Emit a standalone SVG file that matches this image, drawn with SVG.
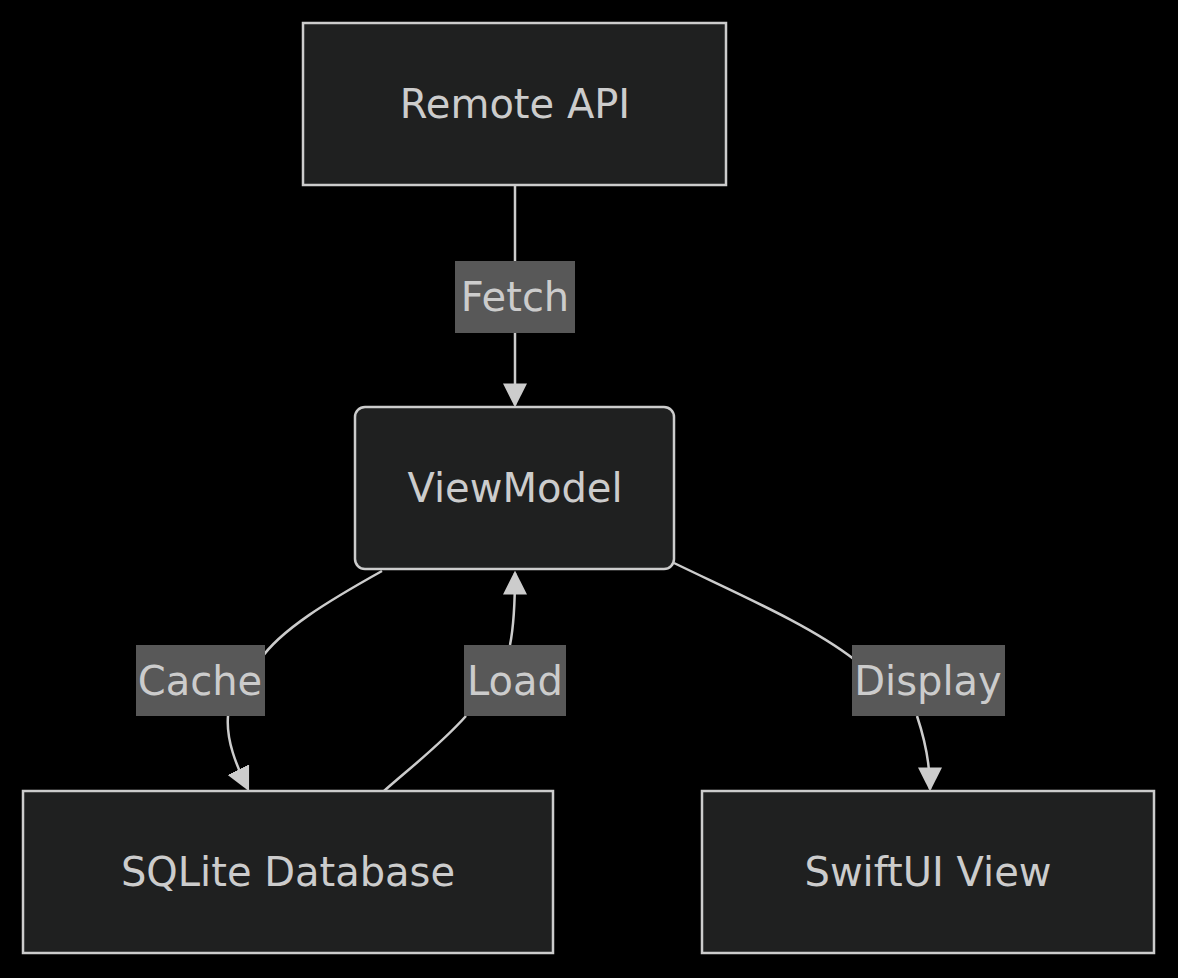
<svg xmlns="http://www.w3.org/2000/svg" width="1178" height="978" viewBox="0 0 1178 978">
<style>
.n{fill:#1f2020;stroke:#cccccc;stroke-width:2.5}
.t{fill:#cccccc;font-family:"DejaVu Sans","Open Sans",sans-serif;font-size:40px;text-anchor:middle;dominant-baseline:central}
.e{fill:none;stroke:#cccccc;stroke-width:2.5}
.lb{fill:#585858}
</style>
<defs><marker id="a" viewBox="0 0 10 10" refX="9" refY="5" markerWidth="10" markerHeight="10" markerUnits="userSpaceOnUse" orient="auto"><path d="M0,0L10,5L0,10z" fill="#cccccc"/></marker>
<marker id="ah" viewBox="0 0 10 10" refX="9" refY="5" markerWidth="24" markerHeight="24" markerUnits="userSpaceOnUse" orient="auto"><path d="M0,0L10,5L0,10z" fill="#cccccc"/></marker></defs>
<rect width="1178" height="978" fill="#000"/>
<g id="connectors">
<path class="e" d="M515,185V405" marker-end="url(#ah)"/>
<path class="e" d="M382,571C330,600 280,630 260,660 M228,716C226,740 236,765 248,789" marker-end="url(#ah)"/>
<path class="e" d="M384,791C410,768 440,745 466,716 M510,645C514,625 515,600 515,573" marker-end="url(#ah)"/>
<path class="e" d="M674,563C740,595 810,625 855,660 M917,716C925,740 930,765 930,789" marker-end="url(#ah)"/>
<rect class="lb" x="455" y="261" width="120" height="72"/><text class="t" x="515" y="297">Fetch</text>
<rect class="lb" x="136" y="645" width="129" height="71"/><text class="t" x="200" y="681">Cache</text>
<rect class="lb" x="464" y="645" width="102" height="71"/><text class="t" x="515" y="681">Load</text>
<rect class="lb" x="852" y="645" width="153" height="71"/><text class="t" x="928" y="681">Display</text>
</g>
<g id="remote"><rect class="n" x="303" y="23" width="423" height="162"/><text class="t" x="515" y="104">Remote API</text></g>
<g id="viewmodel"><rect class="n" x="355" y="407" width="319" height="162" rx="10"/><text class="t" x="515" y="488">ViewModel</text></g>
<g id="sqlite"><rect class="n" x="23" y="791" width="530" height="162"/><text class="t" x="288" y="872">SQLite Database</text></g>
<g id="swiftui"><rect class="n" x="702" y="791" width="452" height="162"/><text class="t" x="928" y="872">SwiftUI View</text></g>
</svg>
